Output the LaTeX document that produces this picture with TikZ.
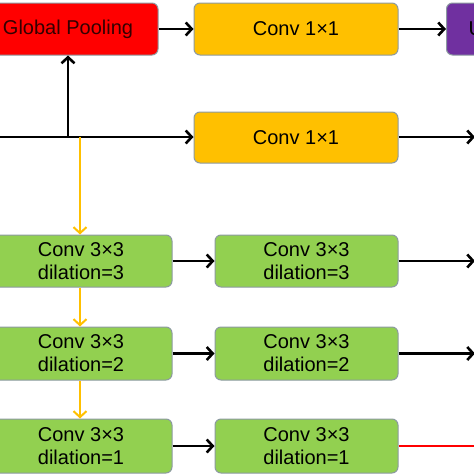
\documentclass[tikz,border=0pt]{standalone}
\usepackage{fontspec}
\setmainfont{Liberation Sans}
\usetikzlibrary{arrows.meta}
\definecolor{poolred}{HTML}{FF0000}
\definecolor{convyel}{HTML}{FFC000}
\definecolor{uppurp}{HTML}{7030A0}
\definecolor{dilgreen}{HTML}{92D050}
\definecolor{edgegray}{HTML}{8C9AA0}

\tikzset{
  blk/.style={draw=edgegray, line width=1pt, rounded corners=6pt, inner sep=0pt,
    font=\fontsize{20}{23}\selectfont, align=center},
  flow/.style={line width=2.6pt, -{Straight Barb[length=6pt,width=13pt]}},
  side/.style={line width=2pt, convyel, -{Straight Barb[length=6pt,width=13pt]}}
}

\begin{document}
\begin{tikzpicture}[x=1pt,y=-1pt]
  \useasboundingbox (0,0) rectangle (474,474);
  % top branch
  \node[blk, fill=poolred, text=black!80!red, minimum width=180pt, minimum height=52pt] (gp) at (68,29) {Global Pooling};
  \node[blk, fill=convyel, minimum width=204pt, minimum height=52pt] (cA) at (296,29) {Conv 1×1};
  \node[blk, fill=uppurp, anchor=west, minimum height=52pt, text width=96pt, inner xsep=22pt, align=left] (up) at (446,29) {U};
  \node[blk, fill=convyel, minimum width=204pt, minimum height=51pt] (cB) at (296,137.5) {Conv 1×1};

  \coordinate (in) at (0,137);
  \coordinate (split) at (68,137);
  \coordinate (tap) at (80,137);

  % dilated branch
  \node[blk, fill=dilgreen, minimum width=182pt, minimum height=52pt] (dA3) at (81,261) {Conv 3×3\\dilation=3};
  \node[blk, fill=dilgreen, minimum width=183pt, minimum height=52pt] (dB3) at (306.5,261) {Conv 3×3\\dilation=3};
  \node[blk, fill=dilgreen, minimum width=182pt, minimum height=53pt] (dA2) at (81,353.5) {Conv 3×3\\dilation=2};
  \node[blk, fill=dilgreen, minimum width=183pt, minimum height=53pt] (dB2) at (306.5,353.5) {Conv 3×3\\dilation=2};
  \node[blk, fill=dilgreen, minimum width=182pt, minimum height=54pt] (dA1) at (81,446) {Conv 3×3\\dilation=1};
  \node[blk, fill=dilgreen, minimum width=183pt, minimum height=54pt] (dB1) at (306.5,446) {Conv 3×3\\dilation=1};

  \coordinate (oB) at (475,137);
  \coordinate (o3) at (475,261);
  \coordinate (o2) at (475,353.5);
  \coordinate (o1) at (475,446);

  \draw[flow] (gp) -- (cA);
  \draw[flow] (cA) -- (up);
  \draw[flow] (in) -- (in -| cB.west);
  \draw[flow] (split) -- (gp.south);
  \draw[flow] (cB.east |- oB) -- (oB);

  \draw[side] (tap) -- (tap |- dA3.north);
  \draw[side] (tap |- dA3.south) -- (tap |- dA2.north);
  \draw[side] (tap |- dA2.south) -- (tap |- dA1.north);

  \draw[flow] (dA3) -- (dB3);
  \draw[flow] (dA2) -- (dB2);
  \draw[flow] (dA1) -- (dB1);
  \draw[flow] (dB3) -- (o3);
  \draw[flow] (dB2) -- (o2);
  \draw[line width=2pt, red] (dB1) -- (o1);
\end{tikzpicture}
\end{document}
